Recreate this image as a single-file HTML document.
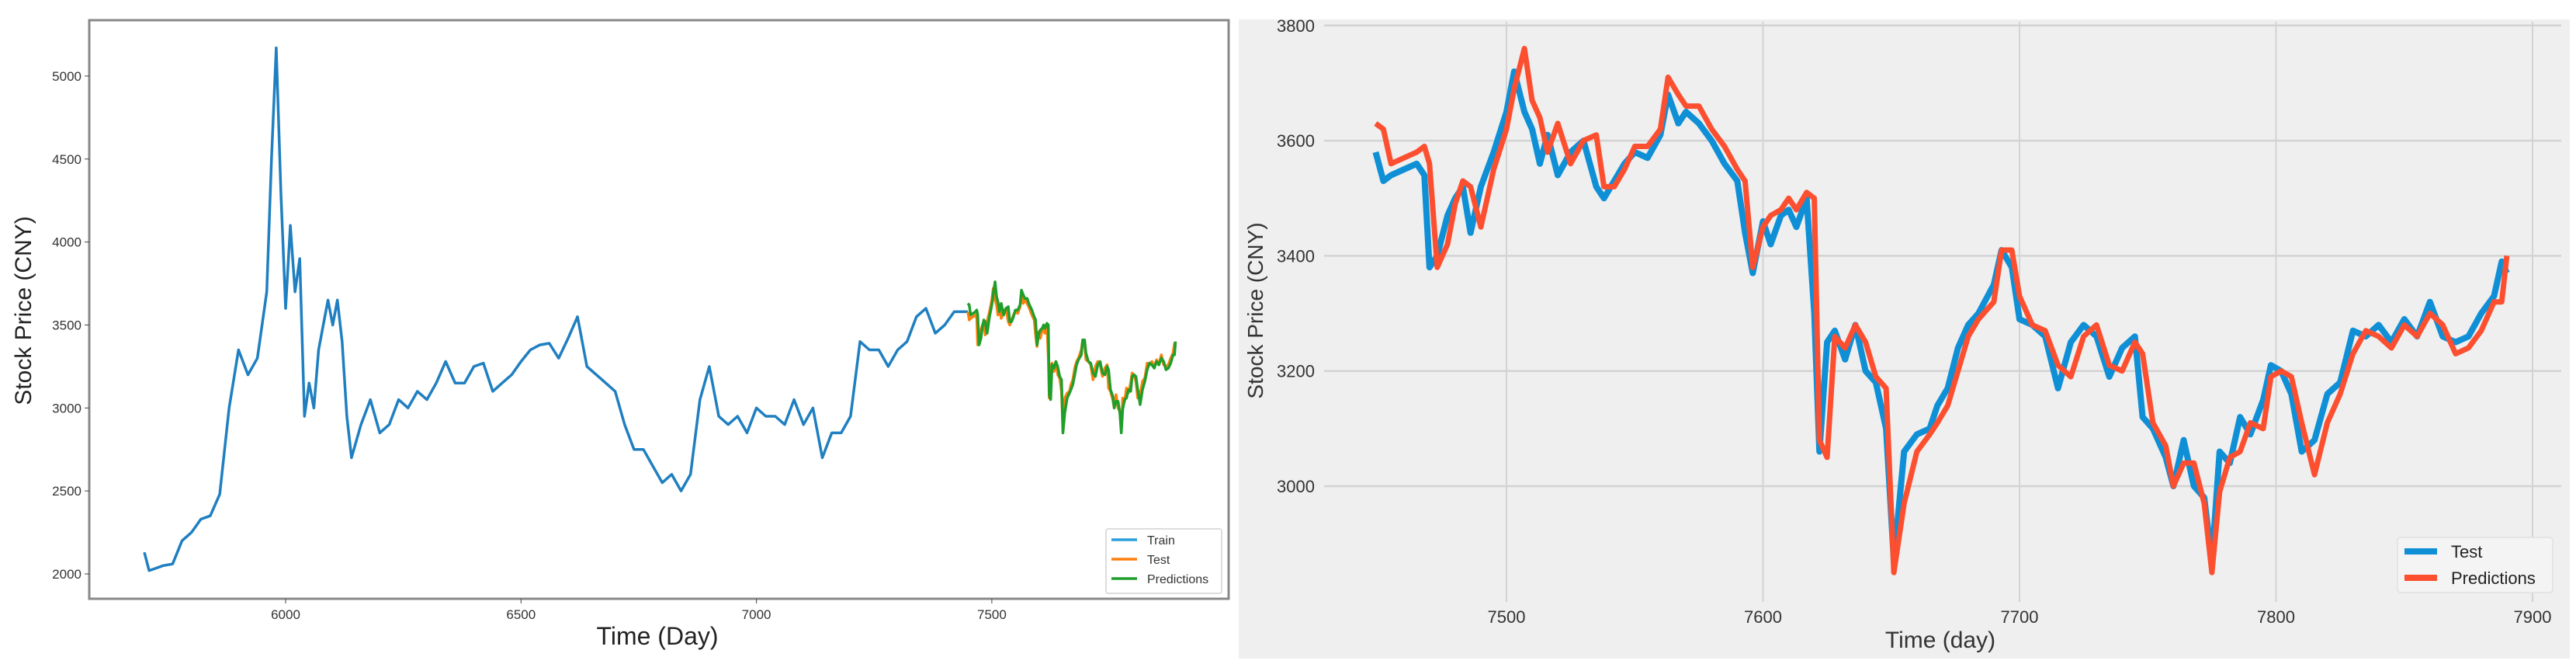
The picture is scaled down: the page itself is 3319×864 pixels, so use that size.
<!DOCTYPE html>
<html><head><meta charset="utf-8">
<style>
html,body{margin:0;padding:0;background:#fff;}
svg{display:block;font-family:"Liberation Sans",sans-serif;}
</style></head>
<body>
<svg id="c" width="3319" height="864" viewBox="0 0 3319 864"></svg>
<script>
const trainDays=[5700,5710,5720,5740,5760,5780,5800,5820,5840,5860,5880,5900,5920,5940,5960,5970,5980,5990,6000,6010,6020,6030,6040,6050,6060,6070,6080,6090,6100,6110,6120,6130,6140,6160,6180,6200,6220,6240,6260,6280,6300,6320,6340,6360,6380,6400,6420,6440,6460,6480,6500,6520,6540,6560,6580,6600,6620,6640,6660,6680,6700,6720,6740,6760,6780,6800,6820,6840,6860,6880,6900,6920,6940,6960,6980,7000,7020,7040,7060,7080,7100,7120,7140,7160,7180,7200,7220,7240,7260,7280,7300,7320,7340,7360,7380,7400,7420,7449];
const trainVals=[2130,2020,2030,2050,2060,2200,2250,2330,2350,2480,3000,3350,3200,3300,3700,4500,5170,4300,3600,4100,3700,3900,2950,3150,3000,3350,3500,3650,3500,3650,3400,2950,2700,2900,3050,2850,2900,3050,3000,3100,3050,3150,3280,3150,3150,3250,3270,3100,3150,3200,3280,3350,3380,3390,3300,3420,3550,3250,3200,3150,3100,2900,2750,2750,2650,2550,2600,2500,2600,3050,3250,2950,2900,2950,2850,3000,2950,2950,2900,3050,2900,3000,2700,2850,2850,2950,3400,3350,3350,3250,3350,3400,3550,3600,3450,3500,3580,3580];
const testDays=[7449,7452,7455,7460,7465,7468,7470,7473,7477,7480,7483,7486,7490,7495,7500,7503,7507,7510,7513,7516,7520,7525,7530,7535,7538,7542,7546,7550,7555,7560,7563,7567,7570,7575,7580,7585,7590,7593,7596,7600,7603,7607,7610,7613,7617,7620,7622,7625,7628,7632,7636,7640,7644,7648,7651,7655,7660,7665,7668,7672,7676,7680,7684,7690,7693,7697,7700,7705,7710,7715,7720,7725,7730,7735,7740,7745,7748,7752,7757,7760,7764,7768,7772,7775,7778,7782,7786,7790,7795,7798,7802,7806,7810,7815,7820,7825,7830,7835,7840,7845,7850,7855,7860,7865,7870,7875,7880,7885,7888,7890];
const testVals=[3580,3530,3540,3550,3560,3540,3380,3400,3470,3500,3520,3440,3520,3580,3650,3720,3650,3620,3560,3610,3540,3580,3600,3520,3500,3530,3560,3580,3570,3610,3680,3630,3650,3630,3600,3560,3530,3440,3370,3460,3420,3470,3480,3450,3500,3300,3060,3250,3270,3220,3280,3200,3180,3100,2870,3060,3090,3100,3140,3170,3240,3280,3300,3350,3410,3380,3290,3280,3260,3170,3250,3280,3260,3190,3240,3260,3120,3100,3050,3000,3080,3000,2980,2870,3060,3040,3120,3090,3150,3210,3200,3160,3060,3080,3160,3180,3270,3260,3280,3250,3290,3260,3320,3260,3250,3260,3300,3330,3390,3370];
const predVals=[3630,3620,3560,3570,3580,3590,3560,3380,3420,3490,3530,3520,3450,3550,3620,3690,3760,3670,3640,3580,3630,3560,3600,3610,3520,3520,3550,3590,3590,3620,3710,3680,3660,3660,3620,3590,3550,3530,3380,3450,3470,3480,3500,3480,3510,3500,3080,3050,3260,3240,3280,3250,3190,3170,2850,2970,3060,3090,3110,3140,3200,3260,3290,3320,3410,3410,3330,3280,3270,3210,3190,3260,3280,3210,3200,3250,3230,3110,3070,3000,3040,3040,2970,2850,2990,3050,3060,3110,3100,3190,3200,3190,3110,3020,3110,3160,3230,3270,3260,3240,3280,3260,3300,3280,3230,3240,3270,3320,3320,3400];
const leftXTicks=[6000,6500,7000,7500];
const leftYTicks=[2000,2500,3000,3500,4000,4500,5000];
const rightXTicks=[7500,7600,7700,7800,7900];
const rightYTicks=[3000,3200,3400,3600,3800];

const svg=document.getElementById('c');
const NS='http://www.w3.org/2000/svg';
function mk(tag,attrs,parent){const e=document.createElementNS(NS,tag);for(const k in attrs)e.setAttribute(k,attrs[k]);(parent||svg).appendChild(e);return e;}
function txt(s,attrs,parent){const e=mk('text',attrs,parent);e.textContent=s;return e;}
function path(days,vals,sx,sy){return days.map((d,i)=>(i?'L':'M')+sx(d).toFixed(1)+','+sy(vals[i]).toFixed(1)).join('');}

// LEFT
const lx=d=>368+(d-6000)/500*303.3;
const ly=v=>739-(v-2000)/1000*213.7;
const L=mk('g',{},svg);


const lf=mk('rect',{x:115,y:26,width:1468,height:745,fill:'#fff',stroke:'#888','stroke-width':3},L);


leftYTicks.forEach(t=>{mk('line',{x1:109,x2:115,y1:ly(t),y2:ly(t),stroke:'#444'},L);
 const e=txt(t,{x:105,y:ly(t)+6,'font-size':17,'text-anchor':'end',fill:'#333'},L);
 
 });
leftXTicks.forEach(t=>{mk('line',{x1:lx(t),x2:lx(t),y1:771,y2:777,stroke:'#444'},L);
 const e=txt(t,{x:lx(t),y:797,'font-size':17,'text-anchor':'middle',fill:'#333'},L);
 
 });
let e;
e=mk('path',{d:path(trainDays,trainVals,lx,ly),fill:'none',stroke:'#1f7fc0','stroke-width':3.5,'stroke-linejoin':'round'},L);


e=mk('path',{d:path(testDays,testVals,lx,ly),fill:'none',stroke:'#ff7f0e','stroke-width':3.5,'stroke-linejoin':'round'},L);


e=mk('path',{d:path(testDays,predVals,lx,ly),fill:'none',stroke:'#1f9e2a','stroke-width':3.5,'stroke-linejoin':'round'},L);


e=txt('Stock Price (CNY)',{x:0,y:0,'font-size':30,'text-anchor':'middle',fill:'#222',transform:'translate(40,400) rotate(-90)'},L);


e=txt('Time (Day)',{x:847,y:830,'font-size':32,'text-anchor':'middle',fill:'#222'},L);


const lg=mk('g',{},L);


mk('rect',{x:1425,y:681,width:149,height:83,fill:'#fff',stroke:'#ddd','stroke-width':2,rx:3},lg);
[['Train','#2a9fdc'],['Test','#ff7f0e'],['Predictions','#1f9e2a']].forEach((p,i)=>{
 const y=695+i*25;
 mk('line',{x1:1432,x2:1465,y1:y,y2:y,stroke:p[1],'stroke-width':3.5},lg);
 const t=txt(p[0],{x:1478,y:y+6,'font-size':16,fill:'#333'},lg);
 
 });

// RIGHT
const rx=d=>1941+(d-7500)/100*330.5;
const ry=v=>626-(v-3000)/200*148.3;
const R=mk('g',{},svg);


e=mk('rect',{x:1596,y:25,width:1715,height:823,fill:'#efefef'},R);


rightYTicks.forEach(t=>{mk('line',{x1:1706,x2:3300,y1:ry(t),y2:ry(t),stroke:'#d3d3d3','stroke-width':2.5},R);
 const k=txt(t,{x:1694,y:ry(t)+8,'font-size':22,'text-anchor':'end',fill:'#333'},R);
 
 });
rightXTicks.forEach(t=>{mk('line',{x1:rx(t),x2:rx(t),y1:28,y2:775,stroke:'#d3d3d3','stroke-width':2},R);
 const k=txt(t,{x:rx(t),y:802,'font-size':22,'text-anchor':'middle',fill:'#333'},R);
 
 });
e=mk('path',{d:path(testDays,testVals,rx,ry),fill:'none',stroke:'#0f8fd6','stroke-width':8,'stroke-linejoin':'round'},R);


e=mk('path',{d:path(testDays,predVals,rx,ry),fill:'none',stroke:'#fc4f30','stroke-width':7,'stroke-linejoin':'round'},R);


e=txt('Stock Price (CNY)',{x:0,y:0,'font-size':28,'text-anchor':'middle',fill:'#333',transform:'translate(1627,400) rotate(-90)'},R);


e=txt('Time (day)',{x:2500,y:834,'font-size':30,'text-anchor':'middle',fill:'#333'},R);


const rg=mk('g',{},R);


mk('rect',{x:3089,y:692,width:200,height:71,fill:'#f4f4f4',stroke:'#e0e0e0','stroke-width':1.5,rx:4},rg);
[['Test','#0f8fd6'],['Predictions','#fc4f30']].forEach((p,i)=>{
 const y=710+i*34;
 mk('line',{x1:3098,x2:3140,y1:y,y2:y,stroke:p[1],'stroke-width':8},rg);
 const t=txt(p[0],{x:3158,y:y+8,'font-size':22,fill:'#222'},rg);
 
 });
</script>
</body></html>
